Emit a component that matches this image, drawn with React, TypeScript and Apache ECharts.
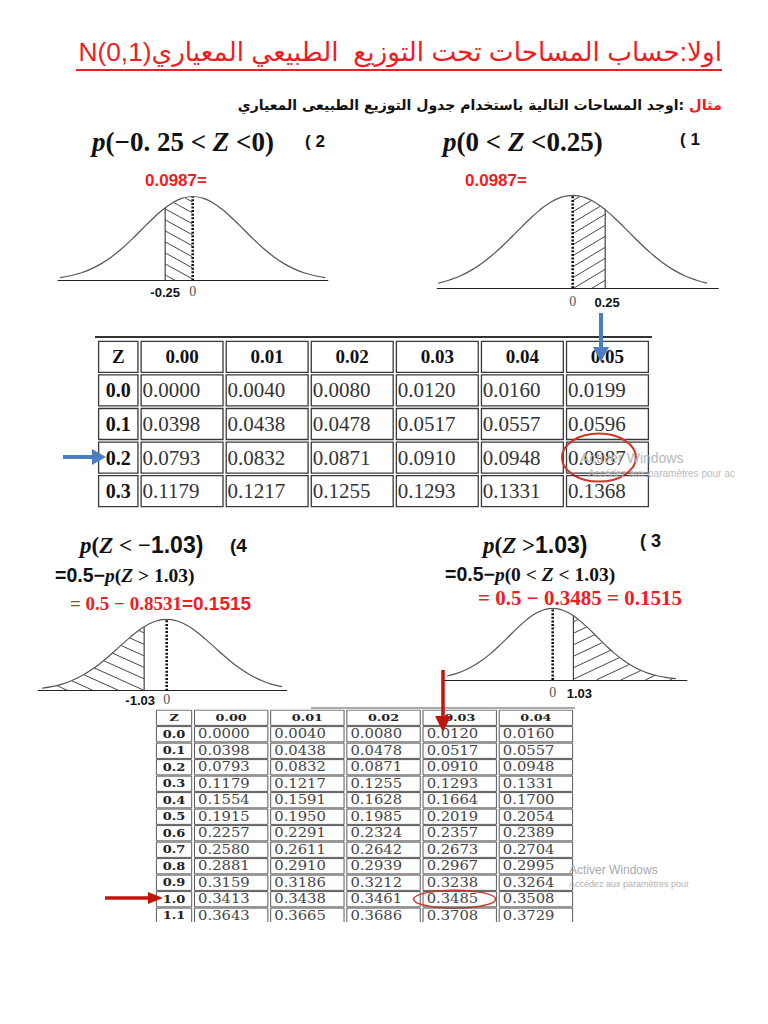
import React, { useEffect, useRef } from "react";
import * as echarts from "echarts";

// ---------- DATA ----------
// standard normal density sampled at z (read values)
const curveZ = [-3.0, -2.8, -2.6, -2.4, -2.2, -2.0, -1.8, -1.6, -1.4, -1.2, -1.0, -0.8, -0.6, -0.4, -0.2, 0, 0.2, 0.4, 0.6, 0.8, 1.0, 1.2, 1.4, 1.6, 1.8, 2.0, 2.2, 2.4, 2.6, 2.8, 3.0];
const curveDensity = [0.0044, 0.0079, 0.0136, 0.0224, 0.0355, 0.054, 0.079, 0.1109, 0.1497, 0.1942, 0.242, 0.2897, 0.3332, 0.3683, 0.391, 0.3989, 0.391, 0.3683, 0.3332, 0.2897, 0.242, 0.1942, 0.1497, 0.1109, 0.079, 0.054, 0.0355, 0.0224, 0.0136, 0.0079, 0.0044];

// graphs: (1) top-right, (2) top-left, (3) bottom-right, (4) bottom-left
const cutLabels = ["0.25", "-0.25", "1.03", "-1.03"];
const cutPositions = [0.58, -0.54, 0.47, -0.47]; // schematic positions as drawn
const shadeFrom = [0, -0.54, 0.47, -2.6];
const shadeTo = [0.58, 0, 2.8, -0.47];
const curveFrom = [-2.4, -2.6, -2.4, -2.6];
const curveTo = [2.4, 2.6, 2.8, 2.4];

const table1Cols = ["Z", "0.00", "0.01", "0.02", "0.03", "0.04", "0.05"];
const table1Rows = ["0.0", "0.1", "0.2", "0.3"];
const table1Vals = [
  ["0.0000", "0.0040", "0.0080", "0.0120", "0.0160", "0.0199"],
  ["0.0398", "0.0438", "0.0478", "0.0517", "0.0557", "0.0596"],
  ["0.0793", "0.0832", "0.0871", "0.0910", "0.0948", "0.0987"],
  ["0.1179", "0.1217", "0.1255", "0.1293", "0.1331", "0.1368"],
];
const table1Highlight = [2, 5];

const table2Cols = ["Z", "0.00", "0.01", "0.02", "0.03", "0.04"];
const table2Rows = ["0.0", "0.1", "0.2", "0.3", "0.4", "0.5", "0.6", "0.7", "0.8", "0.9", "1.0", "1.1"];
const table2Vals = [
  ["0.0000", "0.0040", "0.0080", "0.0120", "0.0160"],
  ["0.0398", "0.0438", "0.0478", "0.0517", "0.0557"],
  ["0.0793", "0.0832", "0.0871", "0.0910", "0.0948"],
  ["0.1179", "0.1217", "0.1255", "0.1293", "0.1331"],
  ["0.1554", "0.1591", "0.1628", "0.1664", "0.1700"],
  ["0.1915", "0.1950", "0.1985", "0.2019", "0.2054"],
  ["0.2257", "0.2291", "0.2324", "0.2357", "0.2389"],
  ["0.2580", "0.2611", "0.2642", "0.2673", "0.2704"],
  ["0.2881", "0.2910", "0.2939", "0.2967", "0.2995"],
  ["0.3159", "0.3186", "0.3212", "0.3238", "0.3264"],
  ["0.3413", "0.3438", "0.3461", "0.3485", "0.3508"],
  ["0.3643", "0.3665", "0.3686", "0.3708", "0.3729"],
];
const table2Highlight = [10, 3];

const titleText = "اولا:حساب المساحات تحت التوزيع  الطبيعي المعياري(N(0,1";
const exampleWord = "مثال";
const exampleText = " :اوجد المساحات التالية باستخدام جدول التوزيع الطبيعى المعياري";

// ---------- LAYOUT / STYLE ----------
const RLE = "\u202B";
const PDF = "\u202C";
const RED = "#ee1d23";
const SERIF = '"Liberation Serif", serif';
const SANS = '"Liberation Sans", "DejaVu Sans", sans-serif';

const graphLayout = [
  { cx: 572.7, sigma: 56, baseY: 288.3, peak: 93, zMin: -2.42, zMax: 2.6, slope: -0.6, gap: 11, labelDy: 13, cutLabelDx: 2 },
  { cx: 192.7, sigma: 51, baseY: 280.5, peak: 84, zMin: -2.64, zMax: 2.65, slope: 0.55, gap: 11, labelDy: 11, cutLabelDx: 0 },
  { cx: 552.7, sigma: 44, baseY: 680, peak: 71.7, zMin: -2.49, zMax: 3.05, slope: -0.47, gap: 11.5, labelDy: 12, cutLabelDx: 6 },
  { cx: 166.7, sigma: 48, baseY: 690.7, peak: 71.4, zMin: -2.68, zMax: 2.5, slope: 0.45, gap: 11.5, labelDy: 9, cutLabelDx: -4 },
];

const tableDefs = [
  {
    cols: table1Cols, rows: table1Rows, vals: table1Vals, hl: table1Highlight,
    left: 97, top: 340, width: 553, height: 168, yMax: 5,
    border: "#3a3a3a", bw: 1.3, insX: 1.6, insY: 1.3, pad: 3,
    header: { family: SERIF, size: 19, weight: "bold", fill: "#111", sx: 1 },
    zcol: { family: SERIF, size: 20, weight: "bold", fill: "#111", sx: 1 },
    val: { family: SERIF, size: 21, weight: "normal", fill: "#333", sx: 1 },
    ell: { dx: 34, rx: 37, ry: 24, color: "#d0342a", lw: 2 },
  },
  {
    cols: table2Cols, rows: table2Rows, vals: table2Vals, hl: table2Highlight,
    left: 155, top: 709.5, width: 419, height: 212.5, yMax: 12.88,
    border: "#5a5a5a", bw: 1, insX: 1.4, insY: 0.6, pad: 5,
    header: { family: '"DejaVu Serif", serif', size: 10, weight: "bold", fill: "#222", sx: 1.28 },
    zcol: { family: '"DejaVu Serif", serif', size: 11, weight: "bold", fill: "#222", sx: 1.18 },
    val: { family: '"DejaVu Serif", serif', size: 12, weight: "normal", fill: "#444", sx: 1.23 },
    ell: { dx: 33, rx: 41, ry: 9, color: "#c8372d", lw: 1.5 },
  },
];

function densityAt(z: number) {
  if (z <= curveZ[0]) return curveDensity[0];
  for (let i = 0; i < curveZ.length - 1; i++) {
    if (z <= curveZ[i + 1]) {
      const t = (z - curveZ[i]) / (curveZ[i + 1] - curveZ[i]);
      return curveDensity[i] + t * (curveDensity[i + 1] - curveDensity[i]);
    }
  }
  return curveDensity[curveDensity.length - 1];
}

function makeGraphRender(gi: number) {
  return (params: any, api: any) => {
    const L = graphLayout[gi];
    const o = api.coord([0, 0]);
    const u = api.coord([1, 0.4]);
    const sx = u[0] - o[0];
    const sy = (u[1] - o[1]) / 0.4;
    const X = (z: number) => o[0] + z * sx;
    const Y = (d: number) => o[1] + d * sy;
    const base = o[1];
    const ch: any[] = [];
    const lo = shadeFrom[gi], hi = shadeTo[gi];
    const x0 = X(lo), x1 = X(hi);
    const curveY = (x: number) => Y(densityAt((x - o[0]) / sx));
    let yTop = Infinity;
    for (let x = x0; x <= x1; x += 0.5) yTop = Math.min(yTop, curveY(x));
    const s = L.slope, g = L.gap;
    const cs = [base - s * x0, base - s * x1, yTop - s * x0, yTop - s * x1];
    const cmin = Math.min(...cs), cmax = Math.max(...cs);
    const push = (a: number[], b: number[]) => {
      if (Math.hypot(b[0] - a[0], b[1] - a[1]) > 1.5)
        ch.push({ type: "line", shape: { x1: a[0], y1: a[1], x2: b[0], y2: b[1] }, style: { stroke: "#333", lineWidth: 0.9 } });
    };
    for (let c = cmin + g * 0.5; c < cmax; c += g) {
      let start: number[] | null = null;
      let last: number[] | null = null;
      for (let x = x0; x <= x1 + 0.01; x += 0.4) {
        const y = s * x + c;
        const inside = y <= base + 0.01 && y >= curveY(x);
        if (inside) {
          if (!start) start = [x, y];
          last = [x, y];
        } else if (start && last) {
          push(start, last);
          start = null;
        }
      }
      if (start && last) push(start, last);
    }
    // zero dotted line
    ch.push({ type: "line", shape: { x1: X(0), y1: base, x2: X(0), y2: Y(densityAt(0)) }, style: { stroke: "#111", lineWidth: 2.6, lineDash: [2, 1.6] } });
    // cut line
    const cut = cutPositions[gi];
    ch.push({ type: "line", shape: { x1: X(cut), y1: base, x2: X(cut), y2: Y(densityAt(cut)) }, style: { stroke: "#333", lineWidth: 1.1 } });
    // labels
    ch.push({ type: "text", x: X(0), y: base + L.labelDy, style: { text: "0", x: 0, y: 0, fontFamily: SERIF, fontSize: 14, fill: "#555", align: "center", verticalAlign: "middle" } });
    ch.push({ type: "text", x: X(cut) + L.cutLabelDx, y: base + L.labelDy + 1, style: { text: cutLabels[gi], x: 0, y: 0, fontFamily: SANS, fontWeight: "bold", fontSize: 13, fill: "#111", align: "center", verticalAlign: "middle" } });
    return { type: "group", children: ch };
  };
}

function makeTableRender(ti: number) {
  const T: any = tableDefs[ti];
  return (params: any, api: any) => {
    const x0 = api.value(0), x1 = api.value(1), r = api.value(2), c = api.value(3), row = api.value(4);
    const a = api.coord([x0, r]);
    const b = api.coord([x1, r + 1]);
    const Lx = a[0], Rx = b[0], Ty = a[1], By = b[1];
    const children: any[] = [
      { type: "rect", shape: { x: Lx + T.insX, y: Ty + T.insY, width: Rx - Lx - 2 * T.insX, height: By - Ty - 2 * T.insY }, style: { fill: "none", stroke: T.border, lineWidth: T.bw } },
    ];
    let text: string, st: any, tx: number, align: string;
    if (row < 0) { text = T.cols[c + 1]; st = T.header; tx = (Lx + Rx) / 2; align = "center"; }
    else if (c < 0) { text = T.rows[row]; st = T.zcol; tx = (Lx + Rx) / 2; align = "center"; }
    else { text = T.vals[row][c]; st = T.val; tx = Lx + T.pad; align = "left"; }
    children.push({
      type: "text", x: tx, y: (Ty + By) / 2, scaleX: st.sx,
      style: { text, x: 0, y: 0, fontFamily: st.family, fontSize: st.size, fontWeight: st.weight, fill: st.fill, align, verticalAlign: "middle" },
    });
    if (row === T.hl[0] && c === T.hl[1]) {
      children.push({ type: "ellipse", shape: { cx: Lx + T.ell.dx, cy: (Ty + By) / 2, rx: T.ell.rx, ry: T.ell.ry }, style: { fill: "none", stroke: T.ell.color, lineWidth: T.ell.lw } });
    }
    return { type: "group", children };
  };
}

function buildCells(cols: string[], rows: string[]) {
  const items: number[][] = [];
  const xr = (c: number) => (c === 0 ? [0, 0.5] : [0.5 + (c - 1), 0.5 + c]);
  for (let c = 0; c < cols.length; c++) { const [a, b] = xr(c); items.push([a, b, 0, c - 1, -1]); }
  for (let ri = 0; ri < rows.length; ri++)
    for (let c = 0; c < cols.length; c++) { const [a, b] = xr(c); items.push([a, b, ri + 1, c - 1, ri]); }
  return items;
}

function arrow(x1: number, y1: number, x2: number, y2: number, color: string, w: number, head: number, hw: number) {
  const dx = x2 - x1, dy = y2 - y1;
  const len = Math.hypot(dx, dy);
  const ux = dx / len, uy = dy / len;
  const bx = x2 - ux * head, by = y2 - uy * head;
  return [
    { type: "line", z: 50, shape: { x1, y1, x2: bx + ux * 1, y2: by + uy * 1 }, style: { stroke: color, lineWidth: w } },
    { type: "polygon", z: 50, shape: { points: [[x2, y2], [bx - uy * hw, by + ux * hw], [bx + uy * hw, by - ux * hw]] }, style: { fill: color } },
  ];
}

function txt(x: number, y: number, text: string, style: any, extra: any = {}) {
  return { type: "text", z: 20, x, y, style: { text, x: 0, y: 0, verticalAlign: "middle", ...style }, ...extra };
}

const mathRich = (size: number, color: string) => ({
  i: { fontFamily: SERIF, fontStyle: "italic", fontWeight: "bold", fontSize: size, fill: color, color },
  n: { fontFamily: SERIF, fontWeight: "bold", fontSize: size, fill: color, color },
  s: { fontFamily: SANS, fontWeight: "bold", fontSize: size, fill: color, color },
});

export default function App() {
  const ref = useRef<HTMLDivElement>(null);
  useEffect(() => {
    if (!ref.current) return;
    const chart = echarts.init(ref.current, null, { renderer: "svg" });
    const grid: any[] = [], xAxis: any[] = [], yAxis: any[] = [], series: any[] = [];
    graphLayout.forEach((L, gi) => {
      const H = (L.peak * 0.4) / 0.3989;
      grid.push({ left: L.cx + L.zMin * L.sigma, top: L.baseY - H, width: (L.zMax - L.zMin) * L.sigma, height: H });
      xAxis.push({ type: "value", gridIndex: gi, min: L.zMin, max: L.zMax, axisLine: { show: true, onZero: false, lineStyle: { color: "#222", width: 1 } }, axisTick: { show: false }, axisLabel: { show: false }, splitLine: { show: false } });
      yAxis.push({ type: "value", gridIndex: gi, min: 0, max: 0.4, show: false });
      const pts = curveZ.map((z, i) => [z, curveDensity[i]]).filter((p) => p[0] >= curveFrom[gi] - 1e-9 && p[0] <= curveTo[gi] + 1e-9);
      series.push({ type: "line", xAxisIndex: gi, yAxisIndex: gi, data: pts, showSymbol: false, smooth: true, lineStyle: { color: "#555", width: 1.2 }, silent: true, z: 3 });
      series.push({ type: "custom", xAxisIndex: gi, yAxisIndex: gi, data: [[0, 0]], renderItem: makeGraphRender(gi), clip: false, silent: true, z: 2 });
    });
    tableDefs.forEach((T, ti) => {
      const gi = 4 + ti;
      grid.push({ left: T.left, top: T.top, width: T.width, height: T.height });
      xAxis.push({ type: "value", gridIndex: gi, min: 0, max: T.cols.length - 1.5 + 1, show: false });
      yAxis.push({ type: "value", gridIndex: gi, min: 0, max: T.yMax, inverse: true, show: false });
      series.push({ type: "custom", xAxisIndex: gi, yAxisIndex: gi, data: buildCells(T.cols, T.rows), encode: { x: [0, 1], y: 2 }, renderItem: makeTableRender(ti), clip: true, silent: true });
    });

    const graphic: any[] = [
      txt(722, 52, RLE + titleText + PDF, { fill: RED, fontFamily: SANS, fontSize: 26.3, align: "right" }),
      { type: "line", z: 20, shape: { x1: 76, y1: 70, x2: 722, y2: 70 }, style: { stroke: RED, lineWidth: 2 } },
      txt(722, 105, RLE + exampleWord + PDF, { fill: RED, fontFamily: '"DejaVu Sans", sans-serif', fontWeight: "bold", fontSize: 14.5, align: "right" }),
      txt(689, 105, RLE + exampleText + PDF, { fill: "#111", fontFamily: '"DejaVu Sans", sans-serif', fontWeight: "bold", fontSize: 14, align: "right" }),

      txt(92, 142, "{i|p}{n|(−0. 25 < }{i|Z}{n| <0)}", { rich: mathRich(27, "#111") }),
      txt(305, 141, "( 2", { fill: "#111", fontFamily: SANS, fontWeight: "bold", fontSize: 17 }),
      txt(443, 142, "{i|p}{n|(0 < }{i|Z}{n| <0.25)}", { rich: mathRich(27, "#111") }),
      txt(680, 139, "( 1", { fill: "#111", fontFamily: SANS, fontWeight: "bold", fontSize: 17 }),
      txt(145, 180, "0.0987=", { fill: RED, fontFamily: SANS, fontWeight: "bold", fontSize: 17 }),
      txt(465, 180, "0.0987=", { fill: RED, fontFamily: SANS, fontWeight: "bold", fontSize: 17 }),

      txt(80, 545, "{i|p}{n|(}{i|Z}{n| < −}{s|1.03)}", { rich: mathRich(23, "#111") }),
      txt(230, 545, "(4", { fill: "#111", fontFamily: SANS, fontWeight: "bold", fontSize: 19 }),
      txt(55, 575, "{s|=0.5−}{i|p}{n|(}{i|Z}{n| > 1.03)}", { rich: mathRich(19.5, "#111") }),
      txt(70, 603, "{n|= 0.5 − 0.8531}{s|=0.1515}", { rich: mathRich(19, RED) }),

      txt(483, 545, "{i|p}{n|(}{i|Z}{n| >}{s|1.03)}", { rich: mathRich(23, "#111") }),
      txt(640, 541, "( 3", { fill: "#111", fontFamily: SANS, fontWeight: "bold", fontSize: 18 }),
      txt(445, 574, "{s|=0.5−}{i|p}{n|(0 < }{i|Z}{n| < 1.03)}", { rich: mathRich(19.5, "#111") }),
      txt(478, 598, "{n|= 0.5 − 0.3485 = 0.1515}", { rich: mathRich(21, RED) }),

      { type: "line", z: 20, shape: { x1: 95, y1: 337, x2: 652, y2: 337 }, style: { stroke: "#333", lineWidth: 2 } },
      { type: "line", z: 20, shape: { x1: 311, y1: 708, x2: 575, y2: 708 }, style: { stroke: "#555", lineWidth: 1.2 } },

      txt(580, 458, "Activer Windows", { fill: "#b8b8b8", fontFamily: SANS, fontSize: 14 }),
      txt(588, 473, "Accédez aux paramètres pour ac", { fill: "#bbbbbb", fontFamily: SANS, fontSize: 10 }),
      txt(569, 870, "Activer Windows", { fill: "#a8a8a8", fontFamily: SANS, fontSize: 12 }),
      txt(569, 884, "Accédez aux paramètres pour", { fill: "#b0b0b0", fontFamily: SANS, fontSize: 9 }),

      ...arrow(601, 313, 601, 362, "#4a7fc1", 4, 15, 8),
      ...arrow(63, 457, 106, 457, "#4a7fc1", 4, 14, 8),
      ...arrow(443, 670, 443, 732, "#c0150c", 3.5, 16, 8),
      ...arrow(105, 898, 163, 898, "#c0150c", 3.5, 15, 6),
    ];

    chart.setOption({
      animation: false,
      backgroundColor: "#ffffff",
      grid, xAxis, yAxis, series, graphic,
    });
    return () => chart.dispose();
  }, []);
  return <div ref={ref} style={{ position: "absolute", left: 0, top: 0, width: 768, height: 1024 }} />;
}
